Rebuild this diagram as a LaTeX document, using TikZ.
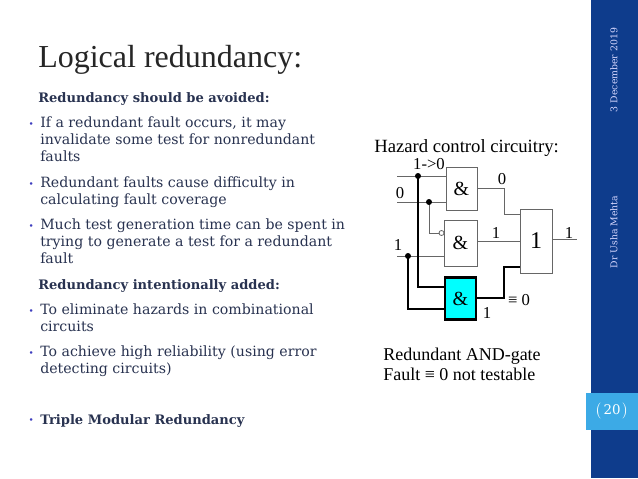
\documentclass[tikz,border=0pt]{standalone}
\usepackage{fontspec}
\setmainfont{Liberation Serif}
\newfontfamily\sidefont{DejaVu Serif}
\newfontfamily\bodyfont{DejaVu Serif}
\definecolor{side}{RGB}{14,60,140}
\definecolor{band}{RGB}{60,170,230}
\definecolor{gcyan}{RGB}{0,255,255}
\definecolor{txt}{RGB}{40,50,80}
\begin{document}
\begin{tikzpicture}[x=0.75pt,y=-0.75pt,
  gate/.style={draw=gray!80!black,line width=0.5pt},
  w/.style={draw=gray!80!black,line width=0.6pt},
  tw/.style={draw=black,line width=1.8pt},
  dot/.style={circle,fill=black,inner sep=0pt,minimum size=4.5pt},
  lab/.style={font=\fontsize{12.5}{12.5}\selectfont,inner sep=0pt},
  body/.style={font=\bodyfont\fontsize{10.6}{12.75}\selectfont,text=txt,anchor=north west,inner sep=0pt,align=left},
  bold/.style={body,anchor=base west,font=\bodyfont\bfseries\fontsize{9.8}{12.75}\selectfont},
  bul/.style={font=\fontsize{8}{8}\selectfont,text=blue!50!gray,anchor=base west,inner sep=0pt}]
\useasboundingbox (0,0) rectangle (638,478);
\fill[white] (0,0) rectangle (638,478);
% sidebar
\fill[side] (591,0) rectangle (638,478);
\fill[band] (586,393) rectangle (638,430);
\node[rotate=90,text=white!85!blue,font=\sidefont\fontsize{7}{7}\selectfont] (date) at (614,70) {3 December 2019};
\node[rotate=90,text=white!85!blue,font=\sidefont\fontsize{7}{7}\selectfont] (auth) at (614,232) {Dr Usha Mehta};
\node[text=white,font=\sidefont\fontsize{10}{10}\selectfont] (pg) at (612,411) {$\bigl($\,20\,$\bigr)$};
% title
\node[anchor=west,font=\fontsize{24}{24}\selectfont,text=black!85,inner sep=0pt] (title) at (38,60) {Logical redundancy:};
% body
\node[bold] (h1) at (38,102) {Redundancy should be avoided:};
\node[bul] (b1) at (29,127) {\textbullet};
\node[body] (t1) at (40,116) {If a redundant fault occurs, it may\\invalidate some test for nonredundant\\faults};
\node[bul] (b2) at (29,187) {\textbullet};
\node[body] (t2) at (40,176) {Redundant faults cause difficulty in\\calculating fault coverage};
\node[bul] (b3) at (29,229) {\textbullet};
\node[body] (t3) at (40,218) {Much test generation time can be spent in\\trying to generate a test for a redundant\\fault};
\node[bold] (h2) at (38,289) {Redundancy intentionally added:};
\node[bul] (b4) at (29,314) {\textbullet};
\node[body] (t4) at (40,303) {To eliminate hazards in combinational\\circuits};
\node[bul] (b5) at (29,356) {\textbullet};
\node[body] (t5) at (40,345) {To achieve high reliability (using error\\detecting circuits)};
\node[bul] (b6) at (29,423) {\textbullet};
\node[bold] (t6) at (40,424) {Triple Modular Redundancy};
% circuit caption
\node[anchor=west,font=\fontsize{14}{14}\selectfont,inner sep=0pt] (hc) at (374,148) {Hazard control circuitry:};
\node[anchor=north west,font=\fontsize{13.5}{15}\selectfont,inner sep=0pt,align=left] (cap) at (383,348) {Redundant AND-gate\\Fault ≡ 0 not testable};
% gates
\node[gate,draw,rectangle,inner sep=0pt,minimum width=23.25pt,minimum height=32.25pt,font=\fontsize{15}{15}\selectfont] (g1) at (461.5,188.5) {\&};
\node[gate,draw,rectangle,inner sep=0pt,minimum width=24.75pt,minimum height=34.5pt,font=\fontsize{15}{15}\selectfont] (g2) at (460.5,243) {\&};
\node[draw=black,line width=1.8pt,fill=gcyan,rectangle,inner sep=0pt,minimum width=23.5pt,minimum height=31.5pt,font=\fontsize{15}{15}\selectfont] (g3) at (460.5,298.5) {\&};
\node[gate,draw,rectangle,inner sep=0pt,minimum width=24pt,minimum height=48pt,font=\fontsize{18}{18}\selectfont] (or) at (536,241) {1};
% coordinates
\coordinate (i1) at (397,176); \coordinate (d1) at (418,176);
\coordinate (i2) at (397,202); \coordinate (d2) at (429,202);
\coordinate (i3) at (397,256); \coordinate (d3) at (408,256);
\coordinate (bub) at (441.5,233);
\coordinate (out) at (577,239);
% wires
\draw[w] (i1) -- (g1.west |- i1);
\draw[w] (i2) -- (g1.west |- i2);
\draw[w] (i3) -- (g2.west |- i3);
\draw[w] (d2) |- (bub);
\draw[w,fill=white] (bub) circle (2.5);
\draw[tw] (d1) |- (g3.west |- 0,287);
\draw[tw] (d3) |- (g3.west |- 0,309);
\draw[w] (g1.east |- 0,188) -| (504,214) -- (or.west |- 0,214);
\draw[w] (g2.east |- 0,241) -- (or.west |- 0,241);
\draw[tw] (g3.east |- 0,298) -| (504,267) -- (or.west |- 0,267);
\draw[w] (or.east |- out) -- (out);
\node[dot] at (d1) {}; \node[dot] at (d2) {}; \node[dot] at (d3) {};
% labels
\node[lab] at (429,164) {1->0};
\node[lab] at (400,193) {0};
\node[lab] at (398,245) {1};
\node[lab] at (502,179) {0};
\node[lab] at (496,233) {1};
\node[lab] at (569,233) {1};
\node[lab] at (519,300) {≡ 0};
\node[lab] at (487,313) {1};
\end{tikzpicture}
\end{document}
